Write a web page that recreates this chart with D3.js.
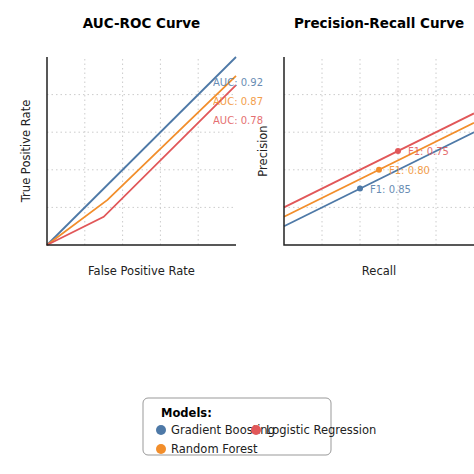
<!DOCTYPE html>
<html><head><meta charset="utf-8">
<script src="https://cdn.jsdelivr.net/npm/d3@7"></script>
<style>body{margin:0;background:#fff}text{font-family:"DejaVu Sans",sans-serif}</style>
</head><body><svg id="c" width="474" height="474"></svg>
<script>
// model names and colours
const models = ["Gradient Boosting", "Random Forest", "Logistic Regression"];
const colors = ["#4e79a7", "#f28e2b", "#e15759"];
// ROC curves: [fpr, tpr]
const rocPoints = [
  [[0, 0], [1, 1]],
  [[0, 0], [0.32, 0.24], [1, 0.9]],
  [[0, 0], [0.3, 0.15], [1, 0.85]]
];
const aucLabels = ["AUC: 0.92", "AUC: 0.87", "AUC: 0.78"];
// PR lines: [recall, precision]
const prPoints = [
  [[0, 0.1], [1, 0.6]],
  [[0, 0.15], [1, 0.65]],
  [[0, 0.2], [1, 0.7]]
];
const f1Points = [[0.4, 0.3], [0.5, 0.4], [0.6, 0.5]];
const f1Labels = ["F1: 0.85", "F1: 0.80", "F1: 0.75"];
const gridVals = [0.2, 0.4, 0.6, 0.8];

const svg = d3.select("#c");
const y = d3.scaleLinear().domain([0, 1]).range([245, 57]);

function panel(x0, x1, title, xl, yl, lines) {
  const x = d3.scaleLinear().domain([0, 1]).range([x0, x1]);
  const g = svg.append("g");
  g.selectAll(".gx").data(gridVals).join("line")
    .attr("x1", d => x(d)).attr("x2", d => x(d)).attr("y1", y(0)).attr("y2", y(1))
    .attr("stroke", "#ccc").attr("stroke-dasharray", "1.5,3");
  g.selectAll(".gy").data(gridVals).join("line")
    .attr("x1", x(0)).attr("x2", x(1)).attr("y1", d => y(d)).attr("y2", d => y(d))
    .attr("stroke", "#ccc").attr("stroke-dasharray", "1.5,3");
  const line = d3.line().x(d => x(d[0])).y(d => y(d[1]));
  g.selectAll(".ln").data(lines).join("path")
    .attr("d", line).attr("fill", "none")
    .attr("stroke", (d, i) => colors[i]).attr("stroke-width", 1.8);
  g.append("path").attr("d", `M${x0},${y(1)}V${y(0)}H${x1}`)
    .attr("fill", "none").attr("stroke", "#222").attr("stroke-width", 1.5);
  g.append("text").attr("x", (x0 + x1) / 2).attr("y", 28).attr("text-anchor", "middle")
    .attr("font-size", 13.5).attr("font-weight", "bold").text(title);
  g.append("text").attr("x", (x0 + x1) / 2).attr("y", 275).attr("text-anchor", "middle")
    .attr("font-size", 11.5).attr("fill", "#222").text(xl);
  g.append("text").attr("transform", `translate(${x0 - 17},${(y(0) + y(1)) / 2})rotate(-90)`)
    .attr("text-anchor", "middle").attr("font-size", 11.5).attr("fill", "#222").text(yl);
  return x;
}

panel(47, 236, "AUC-ROC Curve", "False Positive Rate", "True Positive Rate", rocPoints);
svg.selectAll(".auc").data(aucLabels).join("text")
  .attr("x", 263).attr("y", (d, i) => 86 + i * 19).attr("text-anchor", "end")
  .attr("font-size", 10).attr("fill", (d, i) => colors[i]).attr("opacity", 0.85).text(d => d);

const xp = panel(284, 474, "Precision-Recall Curve", "Recall", "Precision", prPoints);
svg.selectAll(".f1p").data(f1Points).join("circle")
  .attr("cx", d => xp(d[0])).attr("cy", d => y(d[1])).attr("r", 3)
  .attr("fill", (d, i) => colors[i]);
svg.selectAll(".f1t").data(f1Points).join("text")
  .attr("x", d => xp(d[0]) + 10).attr("y", d => y(d[1]) + 4)
  .attr("font-size", 10).attr("fill", (d, i) => colors[i]).attr("opacity", 0.85)
  .text((d, i) => f1Labels[i]);

// legend
const lg = svg.append("g");
lg.append("rect").attr("x", 143).attr("y", 398).attr("width", 188).attr("height", 57)
  .attr("rx", 5).attr("fill", "#fff").attr("stroke", "#999");
lg.append("text").attr("x", 161).attr("y", 417).attr("font-size", 11.5)
  .attr("font-weight", "bold").text("Models:");
const legPos = [[161, 430], [161, 449], [256, 430]];
models.forEach((m, i) => {
  lg.append("circle").attr("cx", legPos[i][0]).attr("cy", legPos[i][1]).attr("r", 5).attr("fill", colors[i]);
  lg.append("text").attr("x", legPos[i][0] + 10).attr("y", legPos[i][1] + 4)
    .attr("font-size", 11.5).attr("fill", "#222").text(m);
});
</script></body></html>
